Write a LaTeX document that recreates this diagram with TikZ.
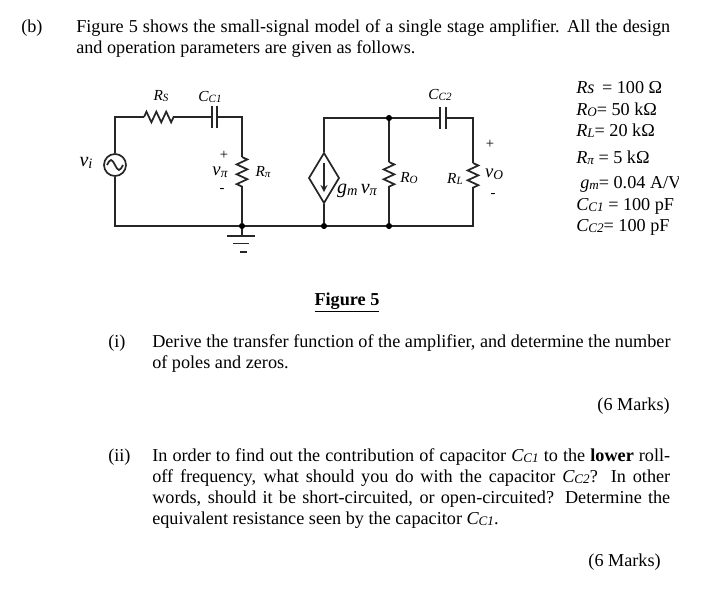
\documentclass[tikz,border=0pt]{standalone}
\usepackage{fontspec}
\setmainfont{Liberation Serif}
\usepackage{tikz}
\usetikzlibrary{arrows,shapes.geometric,decorations.pathmorphing}
\tikzstyle{wire} = [line width=1.3pt, black!85]
\tikzstyle{res} = [wire, decorate, decoration={zigzag, amplitude=4pt, segment length=7.4pt}]
\tikzstyle{plate} = [rectangle, fill=black!85, inner sep=0pt, minimum width=1.4pt, minimum height=16.5pt]
\tikzstyle{dot} = [circle, fill=black, inner sep=0pt, minimum size=4.6pt]
\tikzstyle{txt} = [anchor=base west, inner sep=0pt, font=\fontsize{13.65}{15.75}\selectfont]
\tikzstyle{lab} = [inner sep=0pt, font=\fontsize{11.5}{13}\selectfont\itshape]
\tikzstyle{sgn} = [inner sep=0pt, font=\fontsize{11}{13}\selectfont]
\newcommand{\sbs}[1]{\raisebox{-0.2ex}{\scalebox{0.72}{#1}}}
\begin{document}
\begin{tikzpicture}[x=0.75pt, y=-0.75pt]
\useasboundingbox (0,0) rectangle (715,601);

% question text
\node (qb) [txt] at (21,32) {(b)};
\node (qb1) [txt] at (76,32) {\makebox[445.5pt][s]{Figure 5 shows the small-signal model of a single stage amplifier. All the design}};
\node (qb2) [txt] at (76,53) {and operation parameters are given as follows.};

% source loop
\coordinate (tl) at (115,117);
\coordinate (bl) at (115,226);
\node (vs) [circle, wire, draw, inner sep=0pt, minimum size=16.5pt] at (115,165) {};
\coordinate (rs1) at (144,117);
\coordinate (rs2) at (174,117);
\node (cc1l) [plate] at (212,117) {};
\node (cc1r) [plate] at (217,117) {};
\coordinate (tm) at (242,117);
\coordinate (rp1) at (242,157);
\coordinate (rp2) at (242,187);
\node (gnd) [dot] at (242,226) {};
\coordinate (gnd1) at (242,236);

\draw [wire] (vs) -- (tl) -- (rs1);
\draw [res] (rs1) -- (rs2);
\draw [wire] (rs2) -- (cc1l);
\draw [wire] (cc1r) -- (tm) -- (rp1);
\draw [res] (rp1) -- (rp2);
\draw [wire] (rp2) -- (gnd);
\draw [wire] (vs) -- (bl) -- (gnd);
\draw [wire] (gnd) -- (gnd1);
\draw [wire] (107,165) sin (111,160) cos (115,165) sin (119,170) cos (123,165);

% ground
\draw [wire] (227,236) -- (255,236);
\draw [wire] (233,243.5) -- (249,243.5);
\draw [wire] (240,252) -- (247,252);

% output side
\node (gm) [diamond, wire, draw, inner sep=0pt, aspect=0.6, minimum width=23pt, minimum height=38pt] at (324,178) {};
\coordinate (tr) at (324,118);
\node (jt) [dot] at (389,118) {};
\node (jg) [dot] at (324,226) {};
\node (jo) [dot] at (389,226) {};
\coordinate (ro1) at (389,162);
\coordinate (ro2) at (389,191);
\node (cc2l) [plate] at (440,118) {};
\node (cc2r) [plate] at (446,118) {};
\coordinate (trr) at (473,118);
\coordinate (rl1) at (473,163);
\coordinate (rl2) at (473,192);
\coordinate (brr) at (473,226);
\coordinate (gma) at (324,163);
\coordinate (gmb) at (324,192);

\draw [wire] (gm) -- (tr) -- (jt);
\draw [wire] (jt) -- (cc2l);
\draw [wire] (cc2r) -- (trr) -- (rl1);
\draw [res] (rl1) -- (rl2);
\draw [wire] (rl2) -- (brr) -- (jo);
\draw [wire] (jt) -- (ro1);
\draw [res] (ro1) -- (ro2);
\draw [wire] (ro2) -- (jo);
\draw [wire] (gm) -- (jg);
\draw [wire] (gnd) -- (jg) -- (jo);
\draw [wire, -stealth] (gma) -- (gmb);

% circuit labels
\node (lrs) [lab] at (161,96) {R\sbs{S}};
\node (lc1) [lab] at (210,97) {C\sbs{C1}};
\node (lvi) [lab, font=\fontsize{15}{17}\selectfont\itshape] at (86,163) {v\sbs{i}};
\node (lp1) [sgn] at (224,155) {+};
\node (lvp) [lab, font=\fontsize{14}{15}\selectfont\itshape] at (220,172) {v\sbs{π}};
\node (lm1) [sgn] at (222,190) {-};
\node (lrp) [lab] at (263,172) {R\sbs{π}};
\node (lgm) [lab, font=\fontsize{15}{17}\selectfont\itshape] at (357,191) {g\sbs{m}\,v\sbs{π}};
\node (lro) [lab] at (409,178) {R\sbs{O}};
\node (lrl) [lab] at (455,179) {R\sbs{L}};
\node (lc2) [lab] at (440,95) {C\sbs{C2}};
\node (lp2) [sgn] at (490,144) {+};
\node (lvo) [lab, font=\fontsize{14}{15}\selectfont\itshape] at (494,174) {v\sbs{O}};
\node (lm2) [sgn] at (493,195) {-};

% parameters
\node (prs) [txt] at (576,93) {\textit{Rs}\, = 100 Ω};
\node (pro) [txt] at (576,115) {\textit{R\sbs{O}}= 50 kΩ};
\node (prl) [txt] at (576,136) {\textit{R\sbs{L}}= 20 kΩ};
\node (prp) [txt] at (576,163) {\textit{R\sbs{π}} = 5 kΩ};
\begin{scope}
\clip (570,170) rectangle (678,196);
\node (pgm) [txt] at (580,188) {\textit{g\sbs{m}}= 0.04 A/V};
\end{scope}
\node (pc1) [txt] at (576,210) {\textit{C\sbs{C1}} = 100 pF};
\node (pc2) [txt] at (576,231) {\textit{C\sbs{C2}}= 100 pF};

% figure caption and parts
\node (cap) [txt, anchor=base, font=\fontsize{13.65}{15.75}\selectfont\bfseries] at (347,305) {\underline{Figure 5}};
\node (qi) [txt] at (108,347) {(i)};
\node (qi1) [txt] at (152,347) {Derive the transfer function of the amplifier, and determine the number};
\node (qi2) [txt] at (152,368) {of poles and zeros.};
\node (mk1) [txt, anchor=base east] at (670,410) {(6 Marks)};
\node (qii) [txt] at (108,461) {(ii)};
\node (qii1) [txt] at (152,461) {\makebox[388.5pt][s]{In order to find out the contribution of capacitor \textit{C\sbs{C1}} to the \textbf{lower} roll-}};
\node (qii2) [txt] at (152,482) {\makebox[388.5pt][s]{off frequency, what should you do with the capacitor \textit{C\sbs{C2}}? In other}};
\node (qii3) [txt] at (152,503) {\makebox[388.5pt][s]{words, should it be short-circuited, or open-circuited? Determine the}};
\node (qii4) [txt] at (152,524) {equivalent resistance seen by the capacitor \textit{C\sbs{C1}}.};
\node (mk2) [txt, anchor=base east] at (661,566) {(6 Marks)};
\end{tikzpicture}
\end{document}
